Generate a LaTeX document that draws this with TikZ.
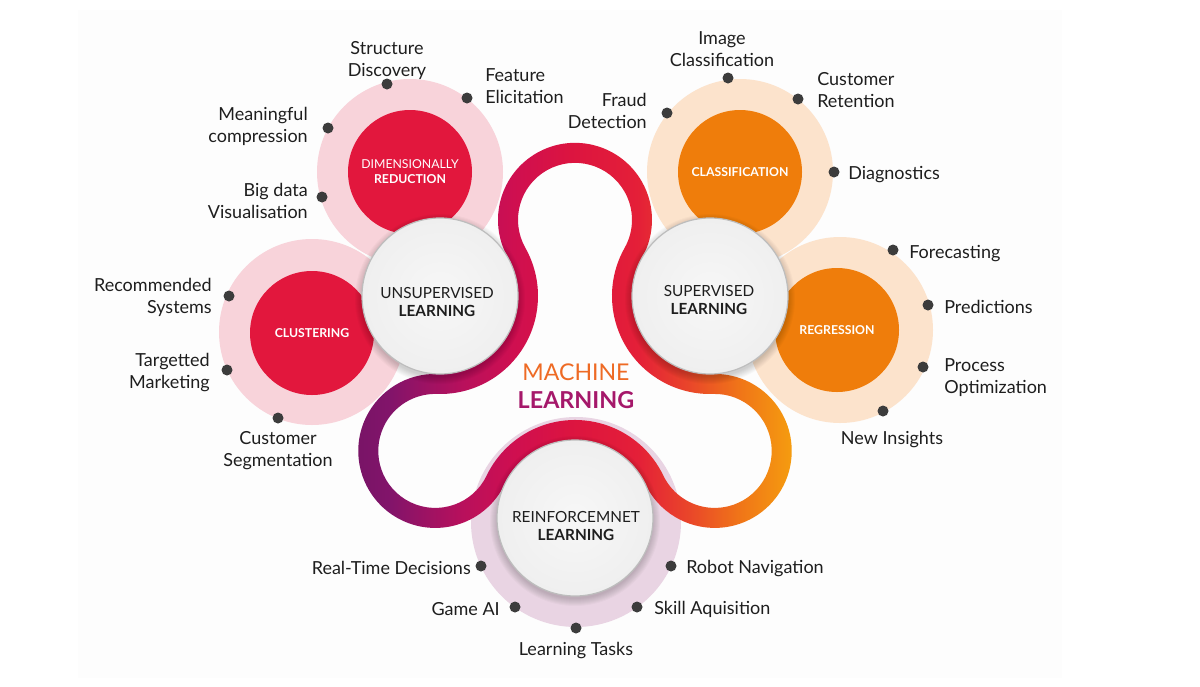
\documentclass[tikz,border=0pt]{standalone}
\usepackage{fontspec}
\setmainfont{Lato}
\usetikzlibrary{calc}
\definecolor{bgc}{HTML}{FDFDFD}
\definecolor{txt}{HTML}{1E1E1E}
\definecolor{dotc}{HTML}{3C3C3C}
\definecolor{redc}{HTML}{E2173D}
\definecolor{pinkc}{HTML}{F8D3DA}
\definecolor{orc}{HTML}{EF7D0B}
\definecolor{paleor}{HTML}{FCE3CC}
\definecolor{lilac}{HTML}{E9D4E3}
\definecolor{ringgray}{HTML}{BDBDBD}
\definecolor{mainout}{HTML}{EFEFEF}
\definecolor{mainin}{HTML}{F7F7F7}
\definecolor{machc}{HTML}{EE6A24}
\definecolor{learnc}{HTML}{A5186A}
\definecolor{bA}{HTML}{761466}
\definecolor{bB}{HTML}{82146A}
\definecolor{bC}{HTML}{B8105C}
\definecolor{bD}{HTML}{CF0F50}
\definecolor{bE}{HTML}{DC1440}
\definecolor{bF}{HTML}{E41F38}
\definecolor{bG}{HTML}{E9452A}
\definecolor{bH}{HTML}{F07518}
\definecolor{bI}{HTML}{F59D0F}
\pgfdeclarehorizontalshading{bandshade}{100bp}{color(0bp)=(bA); color(25bp)=(bA); color(29.8bp)=(bB); color(37.9bp)=(bC); color(43.7bp)=(bD); color(50bp)=(bE); color(57.5bp)=(bF); color(63.2bp)=(bG); color(69bp)=(bH); color(75bp)=(bI); color(100bp)=(bI)}
\tikzset{
  lbl/.style={font=\fontsize{13.5}{16.5}\selectfont, text=txt, inner sep=0pt, yshift=-1.8pt},
  dotn/.style={circle, fill=dotc, minimum size=8.25pt, inner sep=0pt},
  mainc/.style={circle, minimum size=117pt, inner sep=0pt, draw=ringgray, line width=0.9pt,
    inner color=mainin, outer color=mainout},
  maint/.style={align=center, inner sep=0pt, yshift=-1.8pt,
    font=\fontsize{11.5}{13.5}\selectfont, text=txt},
  darkc/.style={circle, minimum size=93pt, inner sep=0pt, text=white, align=center,
    font=\bfseries\fontsize{9.2}{11.3}\selectfont},
}
\begin{document}
\begin{tikzpicture}[x=0.75pt,y=-0.75pt]
\useasboundingbox (0,0) rectangle (1200,686);
\fill[white] (0,0) rectangle (1200,686);
\fill[bgc] (78,10) rectangle (1062,678);
% centres
\coordinate (U) at (440,296);
\coordinate (S) at (710,296);
\coordinate (R) at (575,518);
\coordinate (T) at (575,219.84);
\coordinate (L) at (435.26,450.93);
\coordinate (Q) at (714.74,450.93);
% pale rings
\fill[pinkc] (410,172) circle[radius=93];
\fill[pinkc] (312,332) circle[radius=93];
\fill[paleor] (740,172) circle[radius=93];
\fill[paleor] (840,330) circle[radius=93];
\fill[lilac] (576,522) circle[radius=105];
% dark circles
\node[darkc, fill=redc] (dim) at (410,172) {\mdseries DIMENSIONALLY\\REDUCTION};
\node[darkc, fill=redc] (clu) at (312,333) {CLUSTERING};
\node[darkc, fill=orc] (cla) at (740,172) {CLASSIFICATION};
\node[darkc, fill=orc] (reg) at (837,330) {REGRESSION};
% band
\shade[even odd rule, shading=bandshade]
  ([shift={(150.57:77)}]T) arc[start angle=150.57, end angle=389.43, radius=77]
  arc[start angle=209.43, end angle=88.25, radius=78]
  arc[start angle=268.25, end angle=514.36, radius=77]
  arc[start angle=334.36, end angle=205.64, radius=78]
  arc[start angle=25.64, end angle=271.75, radius=77]
  arc[start angle=91.75, end angle=-29.43, radius=78] -- cycle
  ([shift={(150.57:57)}]T) arc[start angle=150.57, end angle=389.43, radius=57]
  arc[start angle=209.43, end angle=88.25, radius=98]
  arc[start angle=268.25, end angle=514.36, radius=57]
  arc[start angle=334.36, end angle=205.64, radius=98]
  arc[start angle=25.64, end angle=271.75, radius=57]
  arc[start angle=91.75, end angle=-29.43, radius=98] -- cycle;
% shadows
\foreach \c in {U,S,R}{
  \foreach \k in {1,...,8}{
    \fill[black,opacity=0.025] ([shift={(0,3)}]\c) circle[radius=77+\k];
  }
}
% main circles
\node[mainc] (unsup) at (U) {};
\node[mainc] (sup) at (S) {};
\node[mainc] (rein) at (R) {};
\node[maint] (unsupt) at (437,300) {UNSUPERVISED\\\textbf{LEARNING}};
\node[maint] (supt) at (709,298) {SUPERVISED\\\textbf{LEARNING}};
\node[maint] (reint) at (576,524) {REINFORCEMNET\\\textbf{LEARNING}};
% centre title
\node[text=machc, font=\fontsize{17.3}{20}\selectfont, inner sep=0pt] (mach) at (576,372) {MACHINE};
\node[text=learnc, font=\bfseries\fontsize{17.5}{20}\selectfont, inner sep=0pt] (mlearn) at (576,400) {LEARNING};
% dots
\node[dotn] (d1) at (387,84) {};
\node[dotn] (d2) at (467,98) {};
\node[dotn] (d3) at (328,128) {};
\node[dotn] (d4) at (322,197) {};
\node[dotn] (d5) at (229,296) {};
\node[dotn] (d6) at (227,370) {};
\node[dotn] (d7) at (278,418) {};
\node[dotn] (d8) at (728,78) {};
\node[dotn] (d9) at (667,113) {};
\node[dotn] (d10) at (798,99) {};
\node[dotn] (d11) at (834,172) {};
\node[dotn] (d12) at (893,250) {};
\node[dotn] (d13) at (928,305) {};
\node[dotn] (d14) at (923,367) {};
\node[dotn] (d15) at (883,411) {};
\node[dotn] (d16) at (481,566) {};
\node[dotn] (d17) at (671,566) {};
\node[dotn] (d18) at (515,607) {};
\node[dotn] (d19) at (637,607) {};
\node[dotn] (d20) at (576,628) {};
% labels
\node[lbl, align=center] (t1) at (387,58) {Structure\\Discovery};
\node[lbl, align=left, anchor=west] (t2) at (485,84) {Feature\\Elicitation};
\node[lbl, align=right, anchor=east] (t3) at (308,124) {Meaningful\\compression};
\node[lbl, align=right, anchor=east] (t4) at (308,199) {Big data\\Visualisation};
\node[lbl, align=right, anchor=east] (t5) at (212,295) {Recommended\\Systems};
\node[lbl, align=right, anchor=east] (t6) at (210,370) {Targetted\\Marketing};
\node[lbl, align=center] (t7) at (278,448) {Customer\\Segmentation};
\node[lbl, align=center] (t8) at (722,47) {Image\\Classification};
\node[lbl, align=right, anchor=east] (t9) at (647,109) {Fraud\\Detection};
\node[lbl, align=left, anchor=west] (t10) at (817,88) {Customer\\Retention};
\node[lbl, anchor=west] (t11) at (848,172) {Diagnostics};
\node[lbl, anchor=west] (t12) at (909,251) {Forecasting};
\node[lbl, anchor=west] (t13) at (944,305) {Predictions};
\node[lbl, align=left, anchor=west] (t14) at (944,375) {Process\\Optimization};
\node[lbl] (t15) at (892,437) {New Insights};
\node[lbl, anchor=east] (t16) at (471,566) {Real-Time Decisions};
\node[lbl, anchor=west] (t17) at (686,566) {Robot Navigation};
\node[lbl, anchor=east] (t18) at (500,607) {Game AI};
\node[lbl, anchor=west] (t19) at (654,607) {Skill Aquisition};
\node[lbl] (t20) at (576,648) {Learning Tasks};
\end{tikzpicture}
\end{document}
